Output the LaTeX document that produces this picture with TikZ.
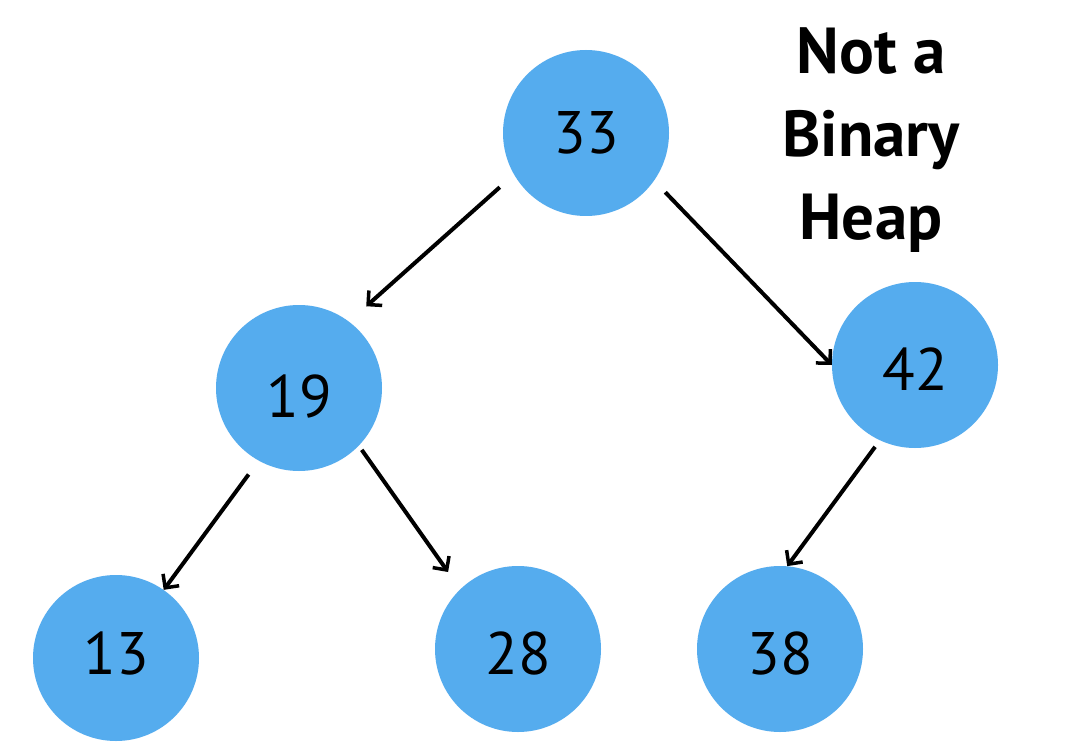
\documentclass[tikz,border=0pt]{standalone}
\usepackage{fontspec}
\setmainfont{PT Sans}
\usetikzlibrary{arrows.meta}
\definecolor{heapblue}{HTML}{55ACEE}
\newcommand{\nudge}[2]{\raisebox{#1}[\height][\depth]{#2}}
\begin{document}
\begin{tikzpicture}[x=1pt,y=-1pt,
  heapnode/.style={circle,fill=heapblue,draw=none,minimum size=166pt,inner sep=0pt,font=\fontsize{60}{60}\selectfont},
  link/.style={draw=black,line width=4pt,arrows={-Straight Barb[length=10pt,width=20pt,line width=3.5pt]}}]
\useasboundingbox[fill=white] (0,0) rectangle (1092,754);
\node[heapnode] (n33) at (586,133) {33};
\node[heapnode] (n19) at (299,388) {\nudge{-8.5pt}{19}};
\node[heapnode] (n42) at (915,365) {\nudge{-4.5pt}{42}};
\node[heapnode] (n13) at (116,658) {\nudge{4.5pt}{13}};
\node[heapnode] (n28) at (518,649) {\nudge{-4.5pt}{28}};
\node[heapnode] (n38) at (780,649) {\nudge{-4.5pt}{38}};
\node[align=center,font=\fontsize{65}{83}\selectfont\bfseries] (title) at (871,140) {Not a\\Binary\\Heap};
\path[link,shorten <=19pt,shorten >=23pt] (n33.210.6) -- (n19.53.5);
\path[link,shorten <=16pt] (n33.-35.1) -- (n42.180);
\path[link,shorten <=17pt] (n19.241.4) -- (n13.55.1);
\path[link,shorten <=5pt,shorten >=21pt] (n19.-44.5) -- (n28.134.2);
\path[link,shorten <=8pt] (n42.245.4) -- (n38.85.3);
\end{tikzpicture}
\end{document}
